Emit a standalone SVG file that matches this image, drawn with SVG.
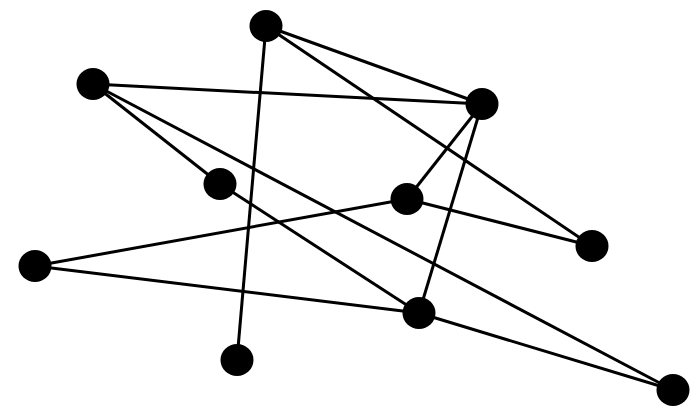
<svg xmlns="http://www.w3.org/2000/svg" width="693" height="412" viewBox="0 0 693 412">
<style>
.e{stroke:#000;stroke-width:3;fill:none}
.n{fill:#000}
</style>
<rect width="693" height="412" fill="#fff"/>
<g id="connectors">
<line class="e" x1="266" y1="26" x2="482" y2="104"/>
<line class="e" x1="266" y1="26" x2="592" y2="246"/>
<line class="e" x1="266" y1="26" x2="237" y2="360"/>
<line class="e" x1="93" y1="84" x2="482" y2="104"/>
<line class="e" x1="93" y1="84" x2="220" y2="184"/>
<line class="e" x1="93" y1="84" x2="673" y2="390"/>
<line class="e" x1="482" y1="104" x2="407" y2="199"/>
<line class="e" x1="482" y1="104" x2="419" y2="313"/>
<line class="e" x1="220" y1="184" x2="419" y2="313"/>
<line class="e" x1="407" y1="199" x2="35" y2="266"/>
<line class="e" x1="407" y1="199" x2="592" y2="246"/>
<line class="e" x1="35" y1="266" x2="419" y2="313"/>
<line class="e" x1="419" y1="313" x2="673" y2="390"/>
</g>
<g id="nA"><ellipse class="n" cx="266" cy="26" rx="16.5" ry="16"/></g>
<g id="nB"><ellipse class="n" cx="93" cy="84" rx="16.5" ry="16"/></g>
<g id="nC"><ellipse class="n" cx="482" cy="104" rx="16.5" ry="16"/></g>
<g id="nD"><ellipse class="n" cx="220" cy="184" rx="16.5" ry="16"/></g>
<g id="nE"><ellipse class="n" cx="407" cy="199" rx="16.5" ry="16"/></g>
<g id="nF"><ellipse class="n" cx="592" cy="246" rx="16.5" ry="16"/></g>
<g id="nG"><ellipse class="n" cx="35" cy="266" rx="16.5" ry="16"/></g>
<g id="nH"><ellipse class="n" cx="419" cy="313" rx="16.5" ry="16"/></g>
<g id="nI"><ellipse class="n" cx="237" cy="360" rx="16.5" ry="16"/></g>
<g id="nJ"><ellipse class="n" cx="673" cy="390" rx="16.5" ry="16"/></g>
</svg>
